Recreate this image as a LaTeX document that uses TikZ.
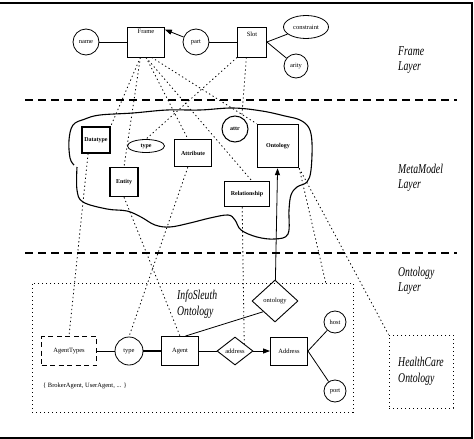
\documentclass[tikz,border=0pt]{standalone}
\usepackage{fontspec}
\setmainfont{Liberation Serif}
\newfontfamily\narrowfont[FakeStretch=0.72]{Liberation Serif}
\usetikzlibrary{shapes.geometric,arrows.meta}

\begin{document}
\begin{tikzpicture}[x=1pt,y=-1pt,>={Triangle[length=7pt,width=5pt]},
  lbltext/.style={font=\fontsize{6.5}{7}\selectfont,inner sep=0pt},
  boldtext/.style={font=\fontsize{6}{7}\selectfont\bfseries,inner sep=0pt},
  framebox/.style={lbltext,draw,line width=0.8pt},
  metabox/.style={boldtext,draw,line width=1.4pt},
  ontbox/.style={lbltext,draw,line width=0.9pt},
  attrcirc/.style={lbltext,draw,circle,line width=0.8pt},
  relation/.style={lbltext,draw,diamond,line width=0.9pt},
  layername/.style={font=\narrowfont\itshape\fontsize{13.5}{15.5}\selectfont,align=left,inner sep=0pt},
  dep/.style={line width=0.8pt,dash pattern=on 1.3pt off 2.7pt},
  divider/.style={line width=1.3pt,dash pattern=on 8pt off 5pt},
  region/.style={draw,line width=0.9pt,dash pattern=on 1.3pt off 2.7pt}]
\useasboundingbox (0,0) rectangle (474,439);
\draw[line width=1.5pt] (0,3) -- (472,3) -- (472,438) -- (0,438);

\node[attrcirc,minimum size=26pt] (name) at (86,42) {name};
\node[framebox,minimum width=37pt,minimum height=30pt,label={[lbltext,anchor=north,yshift=-2pt]north:Frame}] (frame) at (146,42) {};
\node[attrcirc,minimum size=26pt] (part) at (196,42) {part};
\node[framebox,minimum width=29pt,minimum height=30pt,label={[lbltext,anchor=north,yshift=-5pt]north:Slot}] (slot) at (252,42) {};
\node[lbltext,draw,ellipse,line width=0.8pt,minimum width=45pt,minimum height=23pt] (constraint) at (306,27) {constraint};
\node[attrcirc,minimum size=24pt] (arity) at (296,66) {arity};
\draw[line width=0.8pt] (name) -- (frame);
\draw[->,line width=0.8pt] (part) -- ([yshift=-3pt]frame.north east);
\draw[line width=0.8pt] (part) -- (slot);
\draw[line width=0.8pt] (slot.east) -- (constraint);
\draw[line width=0.8pt] (slot.east) -- (arity);
\node[layername,anchor=west] (framelayer) at (398,60) {Frame\\Layer};

\draw[divider] (25,100) -- (457,100);

\draw[line width=1.1pt] plot[smooth,tension=0.6] coordinates {(77,167) (77,190) (83,202) (107,209) (127,211) (141,217) (155,225) (170,227) (190,223) (210,218) (228,215) (235,220) (241,230) (257,237) (275,239) (288,234) (289,210) (291,195) (297,187) (307,182) (311,170) (312,143) (309,128) (300,120) (285,116) (262,111) (233,108) (200,110) (167,110) (133,113) (100,115) (85,119) (73,125) (69,140) (70,158) (74,165)};
\node[metabox,minimum width=28pt,minimum height=26pt] (datatype) at (96,140) {Datatype};
\node[boldtext,draw,ellipse,line width=0.8pt,minimum width=37pt,minimum height=13pt] (metatype) at (146,146) {type};
\node[metabox,minimum width=37pt,minimum height=27pt] (attribute) at (193,153) {Attribute};
\node[metabox,minimum width=28pt,minimum height=29pt] (entity) at (124,182) {Entity};
\node[metabox,minimum width=45pt,minimum height=25pt] (relationship) at (247,194) {Relationship};
\node[metabox,minimum width=41pt,minimum height=43pt] (ontology) at (278,146) {Ontology};
\node[boldtext,draw,circle,line width=1pt,minimum size=26pt] (attr) at (235,129) {attr};
\node[layername,anchor=west] (metalayer) at (398,178) {MetaModel\\Layer};

\draw[dep] (frame.250) -- (datatype.north east);
\draw[dep] (frame.250) -- (entity.north);
\draw[dep] (frame.south) -- (attribute.110);
\draw[dep] (frame.south) -- (relationship.70);
\draw[dep] (frame.290) -- (ontology.north west);
\draw[dep] (slot.south west) -- (metatype.north);
\draw[dep] (slot.250) -- (attr.60);

\draw[divider] (25,253) -- (457,253);

\node[region,minimum width=321pt,minimum height=129pt] (infosleuth) at (192.5,347.5) {};
\node[layername,anchor=west] (islabel) at (177,304) {InfoSleuth\\Ontology};
\node[relation,minimum width=46pt,minimum height=42pt] (ontrel) at (275,301) {ontology};
\node[lbltext,draw,line width=1.2pt,dash pattern=on 5pt off 3.5pt,minimum width=55pt,minimum height=29pt] (agenttypes) at (69,351) {AgentTypes};
\node[attrcirc,minimum size=28pt] (agtype) at (129,351) {type};
\node[ontbox,minimum width=37pt,minimum height=29pt] (agent) at (180,351) {Agent};
\node[relation,minimum width=36pt,minimum height=28pt] (addrrel) at (235,351) {address};
\node[ontbox,minimum width=37pt,minimum height=28pt] (address) at (289,351) {Address};
\node[attrcirc,minimum size=22pt] (host) at (335,322) {host};
\node[attrcirc,minimum size=22pt] (port) at (335,391) {port};
\node[lbltext,anchor=west] (agentset) at (43,386) {\{ BrokerAgent, UserAgent, ... \}};
\node[region,layername,minimum width=64pt,minimum height=73pt] (healthcare) at (421,371.5) {HealthCare\\Ontology};
\node[layername,anchor=west] (ontlayer) at (398,281) {Ontology\\Layer};

\draw[line width=0.8pt] (agenttypes) -- (agtype);
\draw[line width=1.2pt] (agtype) -- (agent);
\draw[line width=0.8pt] (agent) -- (addrrel);
\draw[->,line width=0.8pt] (addrrel) -- (address);
\draw[line width=0.8pt] (address.east) -- (host);
\draw[line width=0.8pt] (address.east) -- (port);
\draw[line width=0.8pt] (agent.70) -- (ontrel.south west);
\draw[->,line width=0.8pt] (ontrel) -- (ontology);

\draw[dep] (datatype.240) -- (agenttypes.north);
\draw[dep] (entity.south) -- (agent.north);
\draw[dep] (attribute.250) -- (agtype.north);
\draw[dep] (relationship.250) -- (addrrel.north east);
\draw[dep] (ontology.south east) -- (infosleuth.26);
\draw[dep] (ontology.south east) -- (healthcare.north west);
\end{tikzpicture}
\end{document}
